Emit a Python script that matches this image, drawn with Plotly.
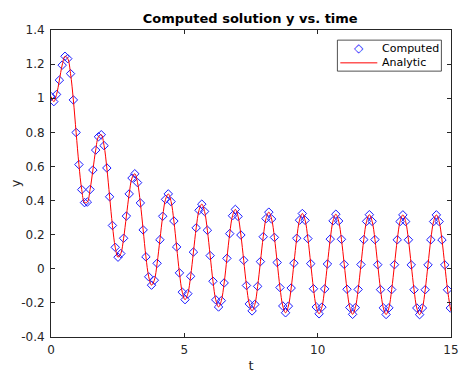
import plotly.graph_objects as go

# time samples (s)
t_vals = [
    0.0, 0.105, 0.209, 0.314, 0.419, 0.524, 0.628, 0.733, 0.838, 0.942, 1.047, 1.152,
    1.257, 1.361, 1.466, 1.571, 1.676, 1.780, 1.885, 1.990, 2.094, 2.199, 2.304, 2.409,
    2.513, 2.618, 2.723, 2.827, 2.932, 3.037, 3.142, 3.246, 3.351, 3.456, 3.560, 3.665,
    3.770, 3.875, 3.979, 4.084, 4.189, 4.294, 4.398, 4.503, 4.608, 4.712, 4.817, 4.922,
    5.027, 5.131, 5.236, 5.341, 5.445, 5.550, 5.655, 5.760, 5.864, 5.969, 6.074, 6.178,
    6.283, 6.388, 6.493, 6.597, 6.702, 6.807, 6.912, 7.016, 7.121, 7.226, 7.330, 7.435,
    7.540, 7.645, 7.749, 7.854, 7.959, 8.063, 8.168, 8.273, 8.378, 8.482, 8.587, 8.692,
    8.796, 8.901, 9.006, 9.111, 9.215, 9.320, 9.425, 9.530, 9.634, 9.739, 9.844, 9.948,
    10.053, 10.158, 10.263, 10.367, 10.472, 10.577, 10.681, 10.786, 10.891, 10.996, 11.100, 11.205,
    11.310, 11.414, 11.519, 11.624, 11.729, 11.833, 11.938, 12.043, 12.148, 12.252, 12.357, 12.462,
    12.566, 12.671, 12.776, 12.881, 12.985, 13.090, 13.195, 13.299, 13.404, 13.509, 13.614, 13.718,
    13.823, 13.928, 14.032, 14.137, 14.242, 14.347, 14.451, 14.556, 14.661, 14.766, 14.870, 14.975,
]

# computed solution (markers)
computed_y = [
    1.010, 0.980, 1.022, 1.106, 1.194, 1.246, 1.232, 1.144, 0.990, 0.799, 0.611, 0.464,
    0.388, 0.391, 0.465, 0.579, 0.696, 0.774, 0.786, 0.722, 0.591, 0.422, 0.254, 0.126,
    0.068, 0.089, 0.179, 0.309, 0.439, 0.532, 0.557, 0.505, 0.386, 0.228, 0.070, -0.047,
    -0.096, -0.067, 0.032, 0.170, 0.308, 0.407, 0.439, 0.394, 0.280, 0.128, -0.024, -0.137,
    -0.181, -0.146, -0.044, 0.098, 0.240, 0.343, 0.379, 0.336, 0.226, 0.077, -0.073, -0.182,
    -0.224, -0.187, -0.083, 0.061, 0.206, 0.311, 0.348, 0.307, 0.198, 0.050, -0.098, -0.206,
    -0.247, -0.209, -0.103, 0.042, 0.188, 0.294, 0.332, 0.292, 0.184, 0.037, -0.110, -0.218,
    -0.258, -0.219, -0.113, 0.033, 0.179, 0.285, 0.324, 0.284, 0.177, 0.030, -0.117, -0.224,
    -0.264, -0.225, -0.118, 0.028, 0.174, 0.281, 0.320, 0.280, 0.173, 0.026, -0.120, -0.227,
    -0.267, -0.228, -0.121, 0.025, 0.171, 0.278, 0.317, 0.278, 0.171, 0.024, -0.122, -0.229,
    -0.268, -0.229, -0.122, 0.024, 0.170, 0.277, 0.316, 0.277, 0.170, 0.023, -0.123, -0.230,
    -0.269, -0.230, -0.123, 0.023, 0.170, 0.277, 0.316, 0.277, 0.169, 0.023, -0.123, -0.230,
]

# analytic solution (line)
analytic_t = t_vals + [15.0]
analytic_y = computed_y + [-0.248]

series_names = ["Computed", "Analytic"]

y_ticks = [-0.4, -0.2, 0, 0.2, 0.4, 0.6, 0.8, 1, 1.2, 1.4]
y_tick_text = ["-0.4", "-0.2", "0", "0.2", "0.4", "0.6", "0.8", "1", "1.2", "1.4"]
x_ticks = [0, 5, 10, 15]
x_tick_text = ["0", "5", "10", "15"]

AX = "#262626"
FONT = "DejaVu Sans"
BLUE = "#1a1aff"
RED = "#ff0000"

fig = go.Figure()
fig.add_trace(go.Scatter(
    x=t_vals, y=computed_y, mode="markers", name=series_names[0],
    marker=dict(symbol="diamond-open", size=6.5, color=BLUE, line=dict(width=1)),
))
fig.add_trace(go.Scatter(
    x=analytic_t, y=analytic_y, mode="lines", name=series_names[1],
    line=dict(color=RED, width=1, shape="spline"),
))

# compact MATLAB-style legend box
shapes = [
    dict(type="rect", xref="paper", yref="paper", x0=0.716, x1=0.976, y0=0.866, y1=0.967,
         line=dict(color=AX, width=0.8), fillcolor="white", layer="above"),
    dict(type="line", xref="paper", yref="paper", x0=0.7233, x1=0.8158, y0=0.893, y1=0.893,
         line=dict(color=RED, width=1), layer="above"),
]
annotations = [
    dict(text="◇", xref="paper", yref="paper", x=0.771, y=0.940, showarrow=False,
         xanchor="center", yanchor="middle", font=dict(family=FONT, size=12, color=BLUE)),
    dict(text=series_names[0], xref="paper", yref="paper", x=0.823, y=0.940, showarrow=False,
         xanchor="left", yanchor="middle", font=dict(family=FONT, size=11, color="black")),
    dict(text=series_names[1], xref="paper", yref="paper", x=0.823, y=0.893, showarrow=False,
         xanchor="left", yanchor="middle", font=dict(family=FONT, size=11, color="black")),
]

fig.update_layout(
    width=474, height=379,
    margin=dict(l=43, r=31, t=22, b=50),
    paper_bgcolor="white", plot_bgcolor="white",
    font=dict(family=FONT, size=12, color=AX),
    title=dict(text="<b>Computed solution y vs. time</b>", x=0.511, xanchor="center",
               y=1 - 10 / 379, yanchor="middle", yref="container", automargin=False,
               font=dict(family=FONT, size=13, color="black")),
    showlegend=False,
    shapes=shapes,
    annotations=annotations,
)
fig.update_xaxes(
    range=[0, 15], tickvals=x_ticks, ticktext=x_tick_text, automargin=False,
    showline=True, linecolor=AX, linewidth=1, mirror="ticks",
    ticks="inside", ticklen=4, tickcolor=AX, showgrid=False, zeroline=False,
    ticklabelstandoff=2,
    title=dict(text="t", standoff=4, font=dict(size=13, color=AX)),
)
fig.update_yaxes(
    range=[-0.4, 1.4], tickvals=y_ticks, ticktext=y_tick_text, automargin=False,
    showline=True, linecolor=AX, linewidth=1, mirror="ticks",
    ticks="inside", ticklen=4, tickcolor=AX, showgrid=False, zeroline=False,
    ticklabelstandoff=3,
    title=dict(text="y", standoff=10, font=dict(size=13, color=AX)),
)

fig.write_html("out.html")
